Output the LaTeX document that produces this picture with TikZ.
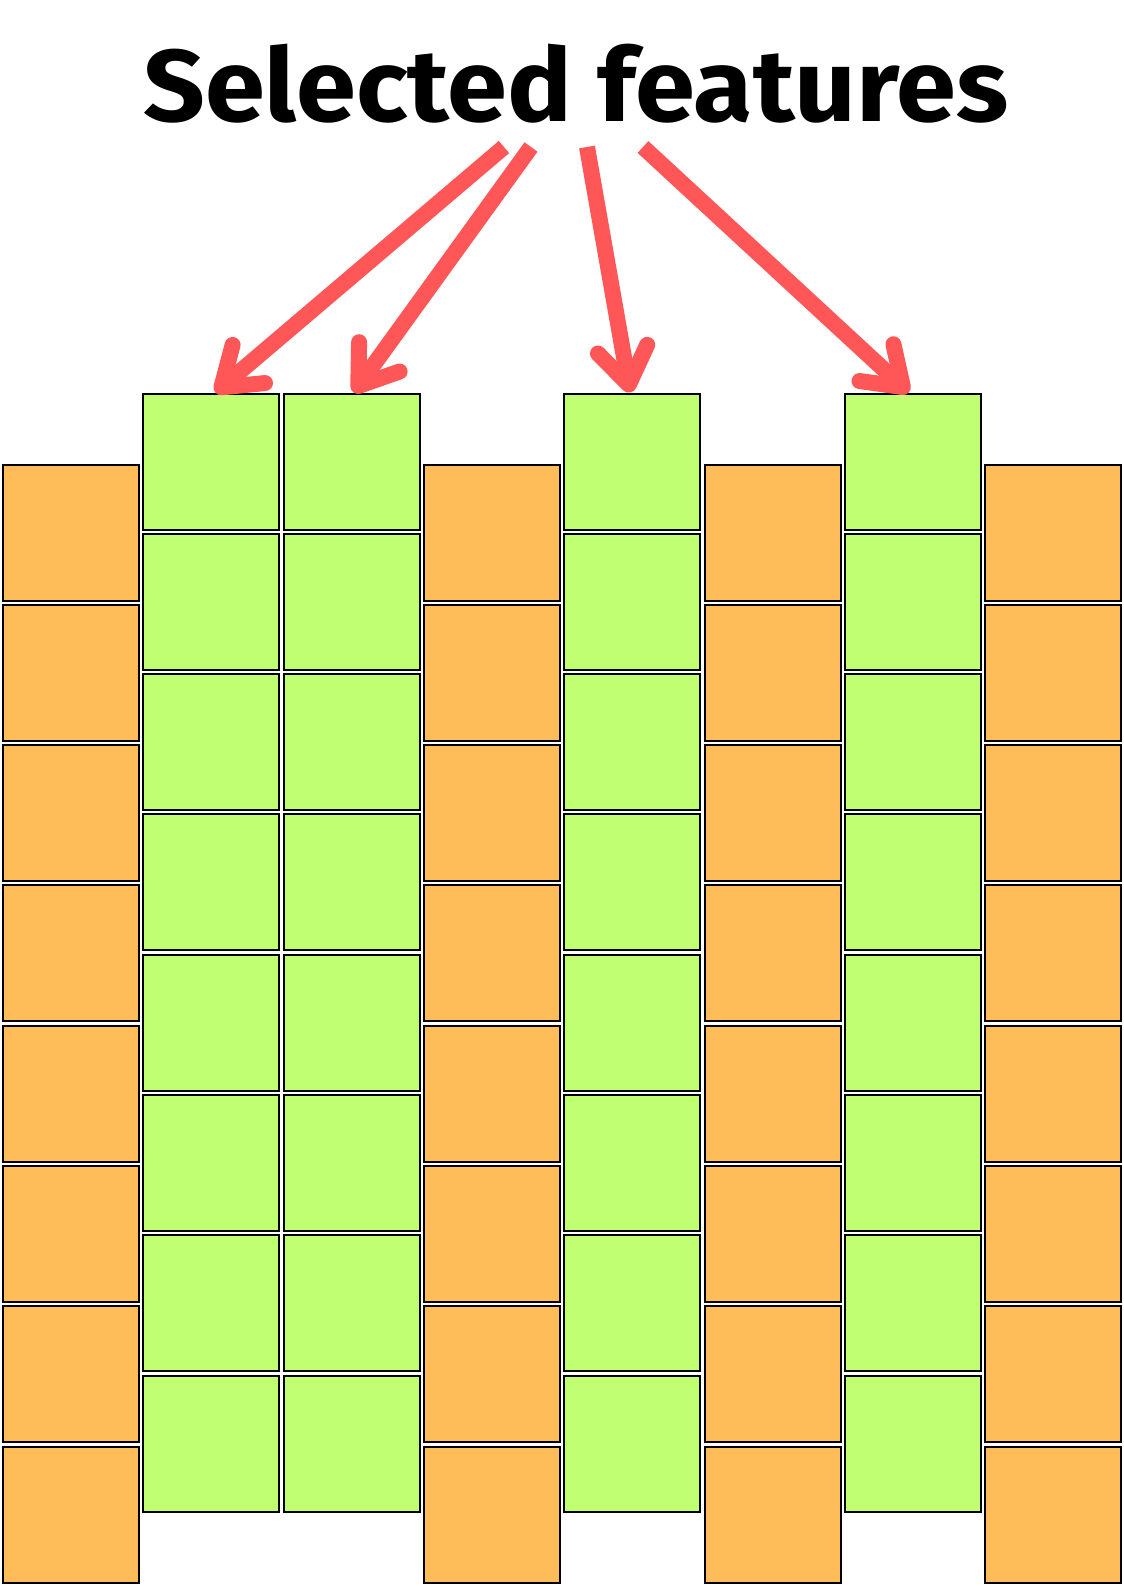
\documentclass[tikz,border=0pt]{standalone}
\usepackage{fontspec}
\setmainfont{Fira Sans}
\usepackage{xcolor}
\usepackage{graphicx}
\usepackage{tikz}
\usetikzlibrary{positioning,calc,arrows.meta}
\definecolor{featgreen}{HTML}{C1FF72}
\definecolor{featorange}{HTML}{FFBD59}
\definecolor{featred}{HTML}{FF5757}

\begin{document}
\begin{tikzpicture}[x=0.5pt, y=-0.5pt,
    kept/.style={draw=black, line width=1pt, fill=featgreen, minimum size=68pt, inner sep=0pt},
    drop/.style={draw=black, line width=1pt, fill=featorange, minimum size=68pt, inner sep=0pt},
    pick/.style={featred, line width=8pt, -{Straight Barb[length=18pt, width=25pt, round]}}]
    \useasboundingbox (0,0) rectangle (1124,1586);

    % Title
    \node[anchor=base, inner sep=0pt, font=\fontsize{51}{60}\selectfont\bfseries] (title) at (576,121) {\scalebox{1.06}[1]{Selected features}};

    % Other features (orange)
    \foreach \k in {0,3,5,7}
      \foreach \r in {0,...,7}
        \node[drop] (c\k-\r) at ({71+140.3*\k},{532.5+140.3*\r}) {};

    % Selected features (green)
    \foreach \k in {1,2,4,6}
      \foreach \r in {0,...,7}
        \node[kept] (c\k-\r) at ({71+140.3*\k},{461.5+140.3*\r}) {};

    % Arrow starts under the title
    \coordinate (s1) at (504,147);
    \coordinate (s2) at (531,147);
    \coordinate (s3) at (587,147);
    \coordinate (s4) at (643,147);

    % Arrows
    \draw[pick] (s1) -- ([xshift=2pt]c1-0.north);
    \draw[pick] (s2) -- ([xshift=1pt]c2-0.north);
    \draw[pick] (s3) -- ([xshift=-1pt]c4-0.north);
    \draw[pick] (s4) -- ([xshift=-2pt]c6-0.north);

\end{tikzpicture}
\end{document}
